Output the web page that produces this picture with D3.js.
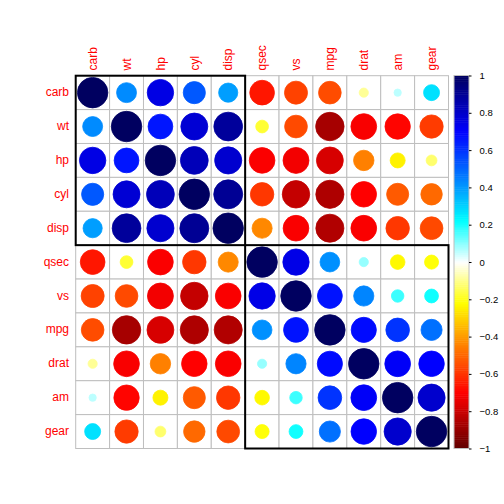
<!DOCTYPE html>
<html><head><meta charset="utf-8">
<script src="https://cdn.jsdelivr.net/npm/d3@7"></script>
<style>body{margin:0;background:#fff}svg{display:block}</style>
</head><body>
<svg id="c" width="504" height="504"></svg>
<script>
const vars = ["carb","wt","hp","cyl","disp","qsec","vs","mpg","drat","am","gear"];
const corrRows = [
 [1.000, 0.428, 0.750, 0.527, 0.395,-0.656,-0.570,-0.551,-0.091, 0.058, 0.274],
 [0.428, 1.000, 0.659, 0.782, 0.888,-0.175,-0.555,-0.868,-0.712,-0.692,-0.583],
 [0.750, 0.659, 1.000, 0.832, 0.791,-0.708,-0.723,-0.776,-0.449,-0.243,-0.126],
 [0.527, 0.782, 0.832, 1.000, 0.902,-0.591,-0.811,-0.852,-0.700,-0.523,-0.493],
 [0.395, 0.888, 0.791, 0.902, 1.000,-0.434,-0.710,-0.848,-0.710,-0.591,-0.556],
 [-0.656,-0.175,-0.708,-0.591,-0.434, 1.000, 0.745, 0.419, 0.091,-0.230,-0.213],
 [-0.570,-0.555,-0.723,-0.811,-0.710, 0.745, 1.000, 0.664, 0.440, 0.168, 0.206],
 [-0.551,-0.868,-0.776,-0.852,-0.848, 0.419, 0.664, 1.000, 0.681, 0.600, 0.480],
 [-0.091,-0.712,-0.449,-0.700,-0.710, 0.091, 0.440, 0.681, 1.000, 0.713, 0.700],
 [0.058,-0.692,-0.243,-0.523,-0.591,-0.230, 0.168, 0.600, 0.713, 1.000, 0.794],
 [0.274,-0.583,-0.126,-0.493,-0.556,-0.213, 0.206, 0.480, 0.700, 0.794, 1.000]
];
const clusters = [["carb","disp"],["qsec","gear"]];
const legendTicks = [-1,-0.8,-0.6,-0.4,-0.2,0,0.2,0.4,0.6,0.8,1];
const palette = ["#600000","red","#FF7F00","yellow","white","cyan","#007FFF","blue","#000060"];
const paletteStops = [-1,-0.7,-0.45,-0.22,0,0.22,0.45,0.7,1];

const svg = d3.select("#c");
const FONT = "Liberation Sans, Arial, sans-serif";
const x0 = 75.7, y0 = 75.7, size = 372.8;
const x = d3.scaleBand().domain(vars).range([x0, x0+size]);
const y = d3.scaleBand().domain(vars).range([y0, y0+size]);
const color = d3.scaleLinear().domain(paletteStops).range(palette).clamp(true);
const bw = x.bandwidth();

const cells = [];
corrRows.forEach((row,i) => row.forEach((v,j) => cells.push({r:vars[i], c:vars[j], v})));

svg.append("g").selectAll("rect").data(cells).join("rect")
  .attr("x", d => x(d.c)).attr("y", d => y(d.r)).attr("width", bw).attr("height", bw)
  .attr("fill","white").attr("stroke","#BEBEBE").attr("stroke-width",1);

svg.append("g").selectAll("circle").data(cells).join("circle")
  .attr("cx", d => x(d.c)+bw/2).attr("cy", d => y(d.r)+bw/2)
  .attr("r", d => 0.45*bw*Math.sqrt(Math.abs(d.v)))
  .attr("fill", d => color(d.v)).attr("stroke", d => color(d.v)).attr("stroke-width",0.8);

svg.append("g").selectAll("rect").data(clusters).join("rect")
  .attr("x", d => x(d[0])).attr("y", d => y(d[0]))
  .attr("width", d => x(d[1])+bw-x(d[0])).attr("height", d => y(d[1])+bw-y(d[0]))
  .attr("fill","none").attr("stroke","black").attr("stroke-width",2);

svg.append("g").selectAll("text").data(vars).join("text")
  .attr("x", 69).attr("y", d => y(d)+bw/2).attr("dy","0.3em")
  .attr("text-anchor","end").attr("fill","red")
  .attr("font-family",FONT).attr("font-size",12).text(d => d);

svg.append("g").selectAll("text").data(vars).join("text")
  .attr("transform", d => `translate(${x(d)+bw/2},70.5) rotate(-90)`).attr("dy","0.35em")
  .attr("text-anchor","start").attr("fill","red")
  .attr("font-family",FONT).attr("font-size",12).text(d => d);

// colour legend
const lx = 454, lw = 15;
const ly = d3.scaleLinear().domain([1,-1]).range([75.5, 448.5]);
const nSteps = 200;
const steps = d3.range(nSteps).map(i => -1 + 2*(i+0.5)/nSteps);
svg.append("g").selectAll("rect").data(steps).join("rect")
  .attr("x", lx).attr("width", lw)
  .attr("y", d => ly(d + 1/nSteps)).attr("height", (ly(-1)-ly(1))/nSteps + 0.5)
  .attr("fill", d => color(d));
svg.append("rect").attr("x",lx).attr("y",ly(1)).attr("width",lw).attr("height",ly(-1)-ly(1))
  .attr("fill","none").attr("stroke","#BEBEBE").attr("stroke-width",1);
const axis = d3.axisRight(ly).tickValues(legendTicks).tickSize(2.5).tickPadding(8).tickFormat(d3.format("~g"));
const ag = svg.append("g").attr("transform",`translate(${lx+lw},0)`).call(axis);
ag.select(".domain").remove();
ag.selectAll("text").attr("font-family",FONT).attr("font-size",9.5).attr("fill","black");
ag.selectAll("line").attr("stroke","black");
</script>
</body></html>
